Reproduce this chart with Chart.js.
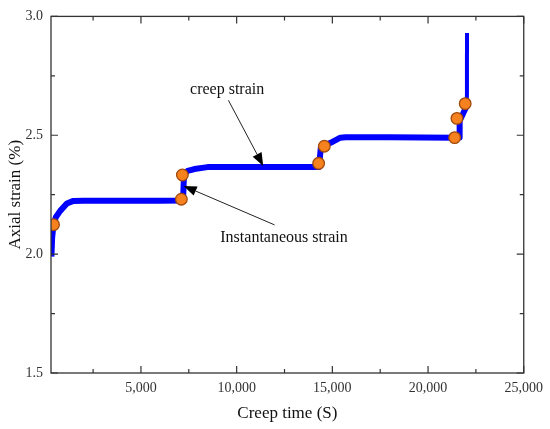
<!DOCTYPE html>
<html>
<head>
<meta charset="utf-8">
<script src="https://cdn.jsdelivr.net/npm/chart.js@4.4.1/dist/chart.umd.min.js"></script>
<style>
  html, body { margin: 0; padding: 0; background: #ffffff; }
  canvas { display: block; }
</style>
</head>
<body>
<canvas id="c" width="550" height="429"></canvas>
<script>
// ---- data ----
const creepTime = [320, 360, 431, 550, 780, 1130, 1470, 2000, 4000, 6000, 7180, 7200, 7250, 7440, 7790, 8480, 10000, 12000, 14300, 14320, 14400, 14580, 15000, 15420, 15700, 18000, 21400, 21640, 21650, 21850, 22030, 22035];
const axialStrain = [1.99, 2.07, 2.124, 2.155, 2.182, 2.213, 2.224, 2.225, 2.225, 2.225, 2.226, 2.23, 2.335, 2.35, 2.358, 2.366, 2.367, 2.367, 2.367, 2.382, 2.45, 2.457, 2.472, 2.49, 2.492, 2.492, 2.49, 2.491, 2.56, 2.595, 2.625, 2.93];

const markerTime = [431, 7111, 7163, 14284, 14580, 21390, 21510, 21941];
const markerStrain = [2.124, 2.231, 2.333, 2.382, 2.454, 2.490, 2.571, 2.633];

const xMajorTicks = [5000, 10000, 15000, 20000, 25000];
const xMinorTicks = [2500, 7500, 12500, 17500, 22500];
const yMajorTicks = [1.5, 2.0, 2.5, 3.0];
const yMinorTicks = [1.75, 2.25, 2.75];

const xLabel = 'Creep time (S)';
const yLabel = 'Axial strain (%)';

// annotations: [text, x value, y value]
const textNotes = [
  ['creep strain', 9502, 2.690],
  ['Instantaneous strain', 12476, 2.070]
];
// arrows: [from x, from y, to x, to y] in data values
const arrowNotes = [
  [9570, 2.647, 11389, 2.371],
  [11982, 2.123, 7231, 2.287]
];

const FONT = "'Liberation Serif', 'Times New Roman', serif";

const frameAndTicks = {
  id: 'frameAndTicks',
  afterDatasetsDraw(chart) {
    const ctx = chart.ctx;
    const a = chart.chartArea;
    const xs = chart.scales.x, ys = chart.scales.y;
    ctx.save();
    ctx.strokeStyle = '#333333';
    ctx.lineWidth = 1.3;
    ctx.strokeRect(a.left, a.top, a.right - a.left, a.bottom - a.top);
    ctx.lineWidth = 1.2;
    ctx.beginPath();
    const tick = (vals, len) => {
      vals.forEach(v => {
        const px = xs.getPixelForValue(v);
        ctx.moveTo(px, a.bottom); ctx.lineTo(px, a.bottom - len);
        ctx.moveTo(px, a.top); ctx.lineTo(px, a.top + len);
      });
    };
    const ytick = (vals, len) => {
      vals.forEach(v => {
        const py = ys.getPixelForValue(v);
        ctx.moveTo(a.left, py); ctx.lineTo(a.left + len, py);
        ctx.moveTo(a.right, py); ctx.lineTo(a.right - len, py);
      });
    };
    tick(xMajorTicks, 7);
    tick(xMinorTicks, 4);
    ytick(yMajorTicks, 7);
    ytick(yMinorTicks, 4);
    ctx.stroke();

    // annotations
    ctx.fillStyle = '#111111';
    ctx.font = '16px ' + FONT;
    ctx.textAlign = 'center';
    ctx.textBaseline = 'middle';
    textNotes.forEach(n => {
      ctx.fillText(n[0], xs.getPixelForValue(n[1]), ys.getPixelForValue(n[2]));
    });
    ctx.strokeStyle = '#222222';
    ctx.lineWidth = 1;
    arrowNotes.forEach(n => {
      const x1 = xs.getPixelForValue(n[0]), y1 = ys.getPixelForValue(n[1]);
      const x2 = xs.getPixelForValue(n[2]), y2 = ys.getPixelForValue(n[3]);
      const ang = Math.atan2(y2 - y1, x2 - x1);
      const L = 13, W = 5;
      const bx = x2 - L * Math.cos(ang), by = y2 - L * Math.sin(ang);
      ctx.beginPath();
      ctx.moveTo(x1, y1); ctx.lineTo(bx, by);
      ctx.stroke();
      ctx.beginPath();
      ctx.moveTo(x2, y2);
      ctx.lineTo(bx + W * Math.sin(ang), by - W * Math.cos(ang));
      ctx.lineTo(bx - W * Math.sin(ang), by + W * Math.cos(ang));
      ctx.closePath();
      ctx.fillStyle = '#000000';
      ctx.fill();
    });
    ctx.restore();
  }
};

new Chart(document.getElementById('c'), {
  type: 'scatter',
  data: {
    datasets: [
      {
        label: 'markers',
        data: markerTime.map((t, i) => ({ x: t, y: markerStrain[i] })),
        showLine: false,
        pointRadius: 5.8,
        pointBackgroundColor: '#F5821F',
        pointBorderColor: '#A24A0C',
        pointBorderWidth: 1.3
      },
      {
        label: 'strain',
        data: creepTime.map((t, i) => ({ x: t, y: axialStrain[i] })),
        showLine: true,
        borderColor: '#0000FF',
        borderWidth: 6,
        pointRadius: 0,
        tension: 0,
        borderJoinStyle: 'round',
        borderCapStyle: 'butt',
        segment: {
          borderWidth: c => (c.p1DataIndex === creepTime.length - 1 ? 4 : 6)
        }
      }
    ]
  },
  options: {
    responsive: false,
    animation: false,
    devicePixelRatio: 1,
    layout: { padding: { top: 16, right: 24, left: 0, bottom: 0 } },
    plugins: { legend: { display: false }, tooltip: { enabled: false } },
    scales: {
      x: {
        type: 'linear',
        min: 300,
        max: 25000,
        afterFit(s) { s.height = 56; },
        afterBuildTicks(s) { s.ticks = xMajorTicks.map(v => ({ value: v })); },
        grid: { display: false, drawTicks: false },
        border: { display: false },
        ticks: {
          padding: 7,
          color: '#333333',
          font: { family: FONT, size: 14 },
          maxRotation: 0,
          autoSkip: false,
          callback: v => Number(v).toLocaleString('en-US')
        },
        title: {
          display: true,
          text: xLabel,
          color: '#111111',
          font: { family: FONT, size: 17 },
          padding: { top: 0, bottom: 5 }
        }
      },
      y: {
        type: 'linear',
        min: 1.5,
        max: 3.0,
        afterFit(s) { s.width = 51; },
        afterBuildTicks(s) { s.ticks = yMajorTicks.map(v => ({ value: v })); },
        grid: { display: false, drawTicks: false },
        border: { display: false },
        ticks: {
          padding: 8,
          color: '#333333',
          font: { family: FONT, size: 14 },
          autoSkip: false,
          callback: v => Number(v).toFixed(1)
        },
        title: {
          display: true,
          text: yLabel,
          color: '#111111',
          font: { family: FONT, size: 17 },
          padding: { top: 5, bottom: 0 }
        }
      }
    }
  },
  plugins: [frameAndTicks]
});
</script>
</body>
</html>
